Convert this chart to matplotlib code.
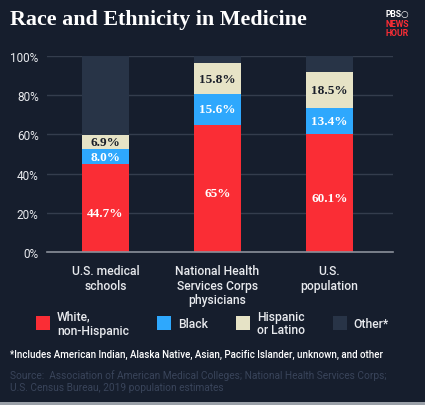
import matplotlib
matplotlib.use("Agg")
import matplotlib.pyplot as plt
import numpy as np

categories = ["U.S. medical\nschools", "National Health\nServices Corps\nphysicians", "U.S.\npopulation"]
white = [44.7, 65.0, 60.1]
black = [8.0, 15.6, 13.4]
hispanic = [6.9, 15.8, 18.5]
other = [40.4, 3.6, 8.0]
white_labels = ["44.7%", "65%", "60.1%"]
black_labels = ["8.0%", "15.6%", "13.4%"]
hispanic_labels = ["6.9%", "15.8%", "18.5%"]
yticks = [0, 20, 40, 60, 80, 100]
ytick_labels = ["0%", "20%", "40%", "60%", "80%", "100%"]
legend_labels = ["White,\nnon-Hispanic", "Black", "Hispanic\nor Latino", "Other*"]

BG = "#161e2d"
RED = "#fa2d35"
BLUE = "#2ea8fd"
BEIGE = "#e6e3c6"
OTHER = "#283447"
GRID = "#343d4d"
TXT = "#e8eaee"

W, H = 425, 406
fig = plt.figure(figsize=(W / 100, H / 100), dpi=100, facecolor=BG)

def fx(px):
    return px / W

def fy(py):
    return 1 - py / H

ax = fig.add_axes([fx(47), fy(253), fx(393) - fx(47), fy(57) - fy(253)])
ax.set_facecolor(BG)
x = np.arange(len(categories))
bw = 0.42
b1 = np.array(white)
b2 = b1 + np.array(black)
b3 = b2 + np.array(hispanic)
ax.bar(x, white, bw, color=RED, zorder=3)
ax.bar(x, black, bw, bottom=b1, color=BLUE, zorder=3)
ax.bar(x, hispanic, bw, bottom=b2, color=BEIGE, zorder=3)
ax.bar(x, other, bw, bottom=b3, color=OTHER, zorder=3)

serif = ["Liberation Serif", "DejaVu Serif"]
vfs = 9.5
for i in range(len(x)):
    ax.text(x[i], white[i] / 2 - 2.5, white_labels[i], ha="center", va="center",
            color="white", fontsize=vfs, fontweight="bold", family=serif, zorder=4)
    ax.text(x[i], b1[i] + black[i] / 2, black_labels[i], ha="center", va="center",
            color="white", fontsize=vfs, fontweight="bold", family=serif, zorder=4)
    ax.text(x[i], b2[i] + hispanic[i] / 2, hispanic_labels[i], ha="center", va="center",
            color="#1a1f2a", fontsize=vfs, fontweight="bold", family=serif, zorder=4)

ax.set_xlim(-0.522, 2.567)
ax.set_ylim(0, 100)
ax.set_yticks(yticks)
ax.set_yticklabels(ytick_labels)
ax.yaxis.grid(True, color=GRID, linewidth=1, zorder=0)
ax.tick_params(axis="y", length=0, pad=6, labelsize=8.5, labelcolor=TXT)
ax.tick_params(axis="x", length=0)
ax.set_xticks([])
for s in ["top", "right", "left"]:
    ax.spines[s].set_visible(False)
ax.spines["bottom"].set_color("#8a909a")
ax.spines["bottom"].set_linewidth(1.2)
ax.spines["bottom"].set_zorder(5)
for lbl in ax.get_yticklabels():
    lbl.set_family("Roboto")

for i, c in enumerate(categories):
    ax.annotate(c, xy=(x[i], 0), xycoords="data", xytext=(0, -9), textcoords="offset points",
                ha="center", va="top", color=TXT, fontsize=8.7, family="Roboto",
                fontweight="medium", linespacing=1.15)

# Title
fig.text(fx(10), fy(20), "Race and Ethnicity in Medicine", color="white", fontsize=15.8,
         fontweight="bold", family=serif, ha="left", va="center")
# Logo
logo_fam = ["Roboto", "DejaVu Sans"]
fig.text(fx(385), fy(15), "PBS\u25cb", color="white", fontsize=6.2, fontweight="bold",
         family=logo_fam, ha="left", va="center")
fig.text(fx(385), fy(24.5), "NEWS", color=RED, fontsize=6.2, fontweight="bold",
         family=logo_fam, ha="left", va="center")
fig.text(fx(385), fy(33), "HOUR", color=RED, fontsize=6.2, fontweight="bold",
         family=logo_fam, ha="left", va="center")

# Legend
colors = [RED, BLUE, BEIGE, OTHER]
sq_x = [36, 157, 236, 333]
tx_x = [57, 178, 257, 353]
for c, sx, tx, lab in zip(colors, sq_x, tx_x, legend_labels):
    fig.patches.append(plt.Rectangle((fx(sx), fy(331)), fx(14), 14 / H, transform=fig.transFigure,
                                     facecolor=c, edgecolor="none"))
    fig.text(fx(tx), fy(324), lab, color=TXT, fontsize=8.7, family="Roboto",
             fontweight="medium", ha="left", va="center", linespacing=1.1)

fig.text(fx(10), fy(355), "*Includes American Indian, Alaska Native, Asian, Pacific Islander, unknown, and other",
         color="white", fontsize=7.0, family="Roboto", fontweight="medium", ha="left", va="center")
fig.text(fx(10), fy(382), "Source:  Association of American Medical Colleges; National Health Services Corps;\nU.S. Census Bureau, 2019 population estimates",
         color="#39445a", fontsize=7.3, family="Roboto", ha="left", va="center", linespacing=1.25)

fig.patches.append(plt.Rectangle((0, 0), 1, 3 / H, transform=fig.transFigure,
                                 facecolor="#9aa0a8", edgecolor="none"))

fig.savefig("out.png", dpi=100, facecolor=BG)
